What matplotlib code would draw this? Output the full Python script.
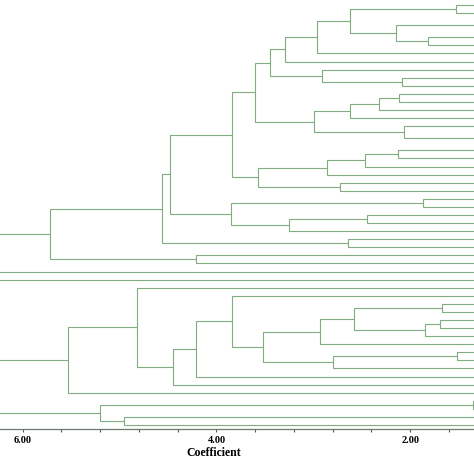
import matplotlib
matplotlib.use("Agg")
import matplotlib.pyplot as plt
from matplotlib.ticker import FixedLocator

# ---------------- data ----------------
# Tree given as nested (merge coefficient, left child, right child); leaves are integer ids.
cluster_a1 = (3.448,
              (3.293,
               (2.966,
                (2.622, (1.531, 1, 2), (2.151, (1.20, 3, 4), (1.814, 5, 6))),
                7),
               8),
              (2.914, 9, (2.083, 10, 11)))
cluster_a2 = (2.994,
              (2.622, (2.326, (2.114, 12, 13), 14), 15),
              (2.065, 16, (1.20, 17, 18)))
cluster_a3 = (3.569,
              (2.863, (2.468, (2.124, 19, 20), 21), 22),
              (2.726, 23, 24))
cluster_a4 = (3.850, (1.866, 25, 26), (3.249, (2.450, 27, 28), 29))
cluster_a = (5.718,
             (4.559,
              (4.480, (3.843, (3.603, cluster_a1, cluster_a2), cluster_a3), cluster_a4),
              (2.646, 30, 31)),
             (4.215, 32, 33))
cluster_b1 = (3.517,
              (2.932,
               (2.581, (1.670, 38, 39), (1.848, (1.693, 40, 41), 42)),
               43),
              (2.795, (1.521, 44, 45), 46))
cluster_b = (5.529,
             (4.824, 36, (4.446, (4.215, (3.843, 37, cluster_b1), 47), 48)),
             49)
cluster_c = (5.202, (1.356, 50, 51), (4.955, 52, 53))
tree = (7.0, (6.8, (6.6, (6.4, cluster_a, 34), 35), cluster_b), cluster_c)

leaf_height = 0.0
x_major = [6.0, 4.0, 2.0]
x_major_labels = ["6.00", "4.00", "2.00"]
x_minor = [5.6, 5.2, 4.8, 4.4, 3.6, 3.2, 2.8, 2.4, 1.6]
x_title = "Coefficient"

# ---------------- plot ----------------
LINE = "#80ac80"
LW = 0.8
fig = plt.figure(figsize=(4.74, 4.74), dpi=100)
ax = fig.add_axes([0, 1 - 428.7 / 474, 1, 428.7 / 474])

counter = [0]


def draw(node):
    if not isinstance(node, tuple):
        y = counter[0]
        counter[0] += 1
        return y, leaf_height
    h, a, b = node
    ya, ha = draw(a)
    yb, hb = draw(b)
    ax.plot([ha, h, h, hb], [ya, ya, yb, yb], color=LINE, lw=LW,
            solid_capstyle="butt", solid_joinstyle="miter")
    return (ya + yb) / 2.0, h


draw(tree)

ax.set_xlim(6.234, 1.342)
ax.set_ylim(52.46, -0.619)
for s in ["top", "left", "right"]:
    ax.spines[s].set_visible(False)
ax.spines["bottom"].set_color("#6e7a6e")
ax.spines["bottom"].set_linewidth(0.9)
ax.set_yticks([])
ax.xaxis.set_major_locator(FixedLocator(x_major))
ax.xaxis.set_minor_locator(FixedLocator(x_minor))
ax.set_xticklabels(x_major_labels, fontfamily="Liberation Serif",
                   fontweight="bold", fontsize=7.5)
ax.tick_params(axis="x", which="both", direction="out", length=2.5,
               width=0.8, color="#555555", pad=2.5)
fig.text(214 / 474, 1 - 453 / 474, x_title, ha="center", va="center",
         fontfamily="Liberation Serif", fontweight="bold", fontsize=8.5)

fig.savefig("out.png", dpi=100)
